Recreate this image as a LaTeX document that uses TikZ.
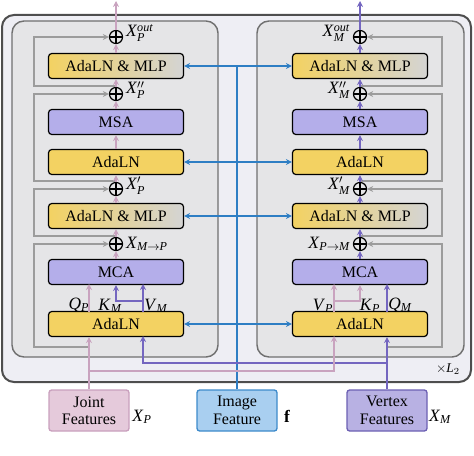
\documentclass[tikz,border=0pt]{standalone}
\usepackage{fontspec}
\setmainfont{Liberation Serif}
\usepackage{amsmath}
\usetikzlibrary{arrows.meta}
\definecolor{pinkln}{HTML}{C9A3BF}
\definecolor{purpln}{HTML}{7466C0}
\definecolor{blueln}{HTML}{2E7EC4}
\definecolor{grayln}{HTML}{9C9C9C}
\definecolor{ylw}{HTML}{F3D262}
\definecolor{lav}{HTML}{B4AEEA}
\definecolor{mlpgray}{HTML}{D4D4D4}
\definecolor{outerfill}{HTML}{EEEEF4}
\definecolor{outerdraw}{HTML}{4E4E4E}
\definecolor{innerfill}{HTML}{E5E5E7}
\definecolor{innerdraw}{HTML}{707070}
\definecolor{jfill}{HTML}{E5CADB}
\definecolor{jdraw}{HTML}{C9A0BD}
\definecolor{ifill}{HTML}{A9CFF0}
\definecolor{idraw}{HTML}{3D8ACB}
\definecolor{vfill}{HTML}{B8B1E3}
\definecolor{vdraw}{HTML}{6C60B3}
\newcommand{\iv}[1]{\textit{#1}}
\begin{document}
\begin{tikzpicture}[x=0.75pt,y=-0.75pt,
  font=\fontsize{12}{13}\selectfont,
  blk/.style={draw=black, line width=0.9pt, rounded corners=2.5pt, minimum width=101.25pt, minimum height=18.75pt, inner sep=0pt},
  ada/.style={blk, fill=ylw},
  att/.style={blk, fill=lav},
  mlp/.style={blk, left color=ylw, right color=mlpgray},
  opl/.style={circle, draw, line width=0.9pt, minimum size=9.8pt, inner sep=0pt,
    path picture={\draw[line width=0.9pt] (path picture bounding box.north) -- (path picture bounding box.south) (path picture bounding box.west) -- (path picture bounding box.east);}},
  tip/.style={-{Stealth[length=4.5pt,width=4.5pt]}},
  both/.style={{Stealth[length=4.5pt,width=4.5pt]}-{Stealth[length=4.5pt,width=4.5pt]}},
  pk/.style={draw=pinkln, line width=1.4pt},
  pp/.style={draw=purpln, line width=1.4pt},
  bl/.style={draw=blueln, line width=1.4pt},
  gr/.style={draw=grayln, line width=1.4pt},
  inbox/.style={line width=1pt, rounded corners=2pt, minimum width=60pt, minimum height=30.75pt, align=center, inner sep=0pt},
  lbl/.style={inner sep=0.5pt, font=\fontsize{13}{14}\selectfont}
]
\useasboundingbox (0,0) rectangle (474,456);
% containers
\draw[draw=outerdraw, fill=outerfill, line width=1.5pt, rounded corners=9pt] (2,15) rectangle (471,382);
\draw[draw=innerdraw, fill=innerfill, line width=1.1pt, rounded corners=9pt] (12,21) rectangle (218,357);
\draw[draw=innerdraw, fill=innerfill, line width=1.1pt, rounded corners=9pt] (257,21) rectangle (464,357);

% left column
\node[mlp] (L1) at (116,66) {AdaLN \& MLP};
\node[att] (L2) at (116,122) {MSA};
\node[ada] (L3) at (116,162) {AdaLN};
\node[mlp] (L4) at (116,216) {AdaLN \& MLP};
\node[att] (L5) at (116,272) {MCA};
\node[ada] (L6) at (116,324) {AdaLN};
\node[opl] (O1) at (116,37) {};
\node[opl] (O2) at (116,94) {};
\node[opl] (O3) at (116,189) {};
\node[opl] (O4) at (116,244) {};
% right column
\node[mlp] (R1) at (360,66) {AdaLN \& MLP};
\node[att] (R2) at (360,122) {MSA};
\node[ada] (R3) at (360,162) {AdaLN};
\node[mlp] (R4) at (360,216) {AdaLN \& MLP};
\node[att] (R5) at (360,272) {MCA};
\node[ada] (R6) at (360,324) {AdaLN};
\node[opl] (P1) at (360,37) {};
\node[opl] (P2) at (360,94) {};
\node[opl] (P3) at (360,189) {};
\node[opl] (P4) at (360,244) {};

% inputs
\node[inbox, draw=jdraw, fill=jfill] (JF) at (89,410.5) {Joint\\Features};
\node[inbox, draw=idraw, fill=ifill] (IF) at (237,410.5) {Image\\Feature};
\node[inbox, draw=vdraw, fill=vfill] (VF) at (387,410.5) {Vertex\\Features};
\node[lbl] (xp) at (142,417) {\iv{X}$_{\iv{P}}$};
\node[lbl] (ff) at (287,416) {\textbf{f}};
\node[lbl] (xm) at (440,417) {\iv{X}$_{\iv{M}}$};
\node[lbl, font=\fontsize{10}{11}\selectfont] (ll) at (448,369) {$\times$\iv{L}$_2$};

% labels at oplus
\node[lbl, anchor=base west] (la1) at ([xshift=1.5pt,yshift=0pt]O1.east) {\iv{X}$_{\iv{P}}^{\iv{out}}$};
\node[lbl, anchor=base west] (la2) at ([xshift=1.5pt,yshift=0pt]O2.east) {\iv{X}$_{\iv{P}}^{\prime\prime}$};
\node[lbl, anchor=base west] (la3) at ([xshift=1.5pt,yshift=-0.5pt]O3.east) {\iv{X}$_{\iv{P}}^{\prime}$};
\node[lbl, anchor=base west] (la4) at ([xshift=1.5pt,yshift=-3pt]O4.east) {\iv{X}$_{\iv{M}\rightarrow\iv{P}}$};
\node[lbl, anchor=base east] (ra1) at ([xshift=-1.5pt,yshift=0pt]P1.west) {\iv{X}$_{\iv{M}}^{\iv{out}}$};
\node[lbl, anchor=base east] (ra2) at ([xshift=-1.5pt,yshift=0pt]P2.west) {\iv{X}$_{\iv{M}}^{\prime\prime}$};
\node[lbl, anchor=base east] (ra3) at ([xshift=-1.5pt,yshift=-0.5pt]P3.west) {\iv{X}$_{\iv{M}}^{\prime}$};
\node[lbl, anchor=base east] (ra4) at ([xshift=-1.5pt,yshift=-3pt]P4.west) {\iv{X}$_{\iv{P}\rightarrow\iv{M}}$};
% Q K V labels
\node[lbl] (qp) at (79,305) {\iv{Q}$_{\iv{P}}$};
\node[lbl] (km) at (110,306) {\iv{K}$_{\iv{M}}$};
\node[lbl] (vm) at (156,306) {\iv{V}$_{\iv{M}}$};
\node[lbl] (vp) at (323,306) {\iv{V}$_{\iv{P}}$};
\node[lbl] (kp) at (370,306) {\iv{K}$_{\iv{P}}$};
\node[lbl] (qm) at (400,305) {\iv{Q}$_{\iv{M}}$};

% coordinates
\coordinate (topL) at (116,1);
\coordinate (topR) at (360,1);
\coordinate (s1) at (116,86);
\coordinate (s2) at (116,181);
\coordinate (s3) at (116,236);
\coordinate (s4) at (89,347);
\coordinate (t1) at (360,86);
\coordinate (t2) at (360,181);
\coordinate (t3) at (360,236);
\coordinate (t4) at (387,347);
\coordinate (kmb) at (143,301);
\coordinate (kpb) at (334,301);
\coordinate (bj) at (237,66);

% skip connections
\draw[gr,tip] (s1) -- (34,86) -- (34,37) -- (O1.west);
\draw[gr,tip] (s2) -- (34,181) -- (34,94) -- (O2.west);
\draw[gr,tip] (s3) -- (34,236) -- (34,189) -- (O3.west);
\draw[gr,tip] (s4) -- (34,347) -- (34,244) -- (O4.west);
\draw[gr,tip] (t1) -- (442,86) -- (442,37) -- (P1.east);
\draw[gr,tip] (t2) -- (442,181) -- (442,94) -- (P2.east);
\draw[gr,tip] (t3) -- (442,236) -- (442,189) -- (P3.east);
\draw[gr,tip] (t4) -- (442,347) -- (442,244) -- (P4.east);

% blue image feature
\draw[bl] (IF.north) -- (bj);
\draw[bl,both] (L1.east) -- (R1.west);
\draw[bl,both] (L3.east) -- (R3.west);
\draw[bl,both] (L4.east) -- (R4.west);
\draw[bl,both] (L6.east) -- (R6.west);

% input lines
\draw[pp,tip] (VF.north) -- (VF.north |- R6.south);
\draw[pp,tip] (387,363) -- (143,363) -- (143,336) ;
\draw[pk,tip] (JF.north) -- (JF.north |- L6.south);
\draw[pk,tip] (89,371) -- (334,371) -- (334,336);

% left main flow (pink)
\draw[pk,tip] (89,312) -- (89,284);
\draw[pp,tip] (143,312) -- (143,284);
\draw[pp,tip] (kmb) -- (116,301) -- (L5.south);
\draw[pk,tip] (L5.north) -- (O4.south);
\draw[pk,tip] (O4.north) -- (L4.south);
\draw[pk,tip] (L4.north) -- (O3.south);
\draw[pk,tip] (O3.north) -- (L3.south);
\draw[pk,tip] (L3.north) -- (L2.south);
\draw[pk,tip] (L2.north) -- (O2.south);
\draw[pk,tip] (O2.north) -- (L1.south);
\draw[pk,tip] (L1.north) -- (O1.south);
\draw[pk,tip] (O1.north) -- (topL);
% right main flow (purple)
\draw[pk,tip] (334,312) -- (334,284);
\draw[pk,tip] (kpb) -- (360,301) -- (R5.south);
\draw[pp,tip] (387,312) -- (387,284);
\draw[pp,tip] (R5.north) -- (P4.south);
\draw[pp,tip] (P4.north) -- (R4.south);
\draw[pp,tip] (R4.north) -- (P3.south);
\draw[pp,tip] (P3.north) -- (R3.south);
\draw[pp,tip] (R3.north) -- (R2.south);
\draw[pp,tip] (R2.north) -- (P2.south);
\draw[pp,tip] (P2.north) -- (R1.south);
\draw[pp,tip] (R1.north) -- (P1.south);
\draw[pp,tip] (P1.north) -- (topR);
\end{tikzpicture}
\end{document}
